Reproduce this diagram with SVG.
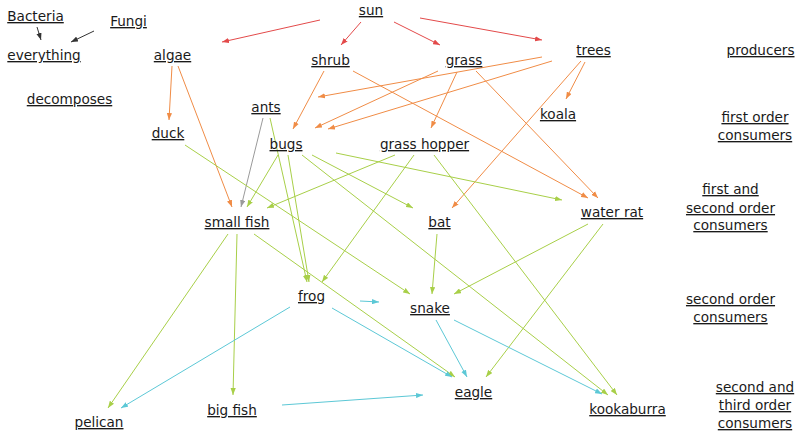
<svg xmlns="http://www.w3.org/2000/svg" width="800" height="439" viewBox="0 0 800 439">
<style>
text{font-family:"DejaVu Sans","Liberation Sans",sans-serif;font-size:13.6px;fill:#1a1a1a;text-anchor:middle;text-decoration:underline}
.c line{stroke-width:1;fill:none}
.k{stroke:#333}
.r{stroke:#e34a4a}
.o{stroke:#f08c46}
.g{stroke:#a8cf48}
.y{stroke:#9a9a9a}
.b{stroke:#5cc8d6}
.k{marker-end:url(#ak)}
.r{marker-end:url(#ar)}
.o{marker-end:url(#ao)}
.g{marker-end:url(#ag)}
.y{marker-end:url(#ay)}
.b{marker-end:url(#ab)}
</style>
<defs>
<marker id="ak" viewBox="0 0 8 6" refX="8" refY="3" markerWidth="7" markerHeight="5.5" orient="auto" markerUnits="userSpaceOnUse"><path d="M0,0L8,3L0,6z" fill="#333"/></marker>
<marker id="ar" viewBox="0 0 8 6" refX="8" refY="3" markerWidth="7" markerHeight="5.5" orient="auto" markerUnits="userSpaceOnUse"><path d="M0,0L8,3L0,6z" fill="#e34a4a"/></marker>
<marker id="ao" viewBox="0 0 8 6" refX="8" refY="3" markerWidth="7" markerHeight="5.5" orient="auto" markerUnits="userSpaceOnUse"><path d="M0,0L8,3L0,6z" fill="#f08c46"/></marker>
<marker id="ag" viewBox="0 0 8 6" refX="8" refY="3" markerWidth="7" markerHeight="5.5" orient="auto" markerUnits="userSpaceOnUse"><path d="M0,0L8,3L0,6z" fill="#a8cf48"/></marker>
<marker id="ay" viewBox="0 0 8 6" refX="8" refY="3" markerWidth="7" markerHeight="5.5" orient="auto" markerUnits="userSpaceOnUse"><path d="M0,0L8,3L0,6z" fill="#9a9a9a"/></marker>
<marker id="ab" viewBox="0 0 8 6" refX="8" refY="3" markerWidth="7" markerHeight="5.5" orient="auto" markerUnits="userSpaceOnUse"><path d="M0,0L8,3L0,6z" fill="#5cc8d6"/></marker>
</defs>
<rect width="800" height="439" fill="#ffffff"/>
<g id="connectors" class="c">
<line class="k" x1="37" y1="27" x2="41" y2="40"/>
<line class="k" x1="94" y1="31" x2="71" y2="42"/>
<line class="r" x1="320" y1="20" x2="222" y2="42"/>
<line class="r" x1="361" y1="22" x2="341" y2="45"/>
<line class="r" x1="394" y1="22" x2="440" y2="45"/>
<line class="r" x1="420" y1="18" x2="542" y2="40"/>
<line class="o" x1="172" y1="66" x2="169" y2="120"/>
<line class="o" x1="178" y1="66" x2="232" y2="207"/>
<line class="o" x1="324" y1="71" x2="293" y2="129"/>
<line class="o" x1="353" y1="71" x2="588" y2="198"/>
<line class="o" x1="476" y1="71" x2="598" y2="198"/>
<line class="o" x1="542" y1="57" x2="318" y2="97"/>
<line class="o" x1="552" y1="61" x2="328" y2="129"/>
<line class="o" x1="438" y1="71" x2="315" y2="128"/>
<line class="o" x1="457" y1="72" x2="431" y2="128"/>
<line class="o" x1="585" y1="62" x2="566" y2="99"/>
<line class="o" x1="581" y1="61" x2="452" y2="208"/>
<line class="y" x1="263" y1="118" x2="241" y2="207"/>
<line class="g" x1="278" y1="155" x2="247" y2="207"/>
<line class="g" x1="395" y1="155" x2="267" y2="208"/>
<line class="g" x1="270" y1="118" x2="307" y2="282"/>
<line class="g" x1="288" y1="155" x2="309" y2="282"/>
<line class="g" x1="185" y1="145" x2="410" y2="294"/>
<line class="g" x1="312" y1="155" x2="413" y2="208"/>
<line class="g" x1="302" y1="155" x2="608" y2="395"/>
<line class="g" x1="434" y1="155" x2="617" y2="395"/>
<line class="g" x1="336" y1="153" x2="562" y2="200"/>
<line class="g" x1="414" y1="155" x2="322" y2="282"/>
<line class="g" x1="603" y1="224" x2="486" y2="377"/>
<line class="g" x1="588" y1="224" x2="454" y2="294"/>
<line class="g" x1="437" y1="234" x2="432" y2="294"/>
<line class="g" x1="254" y1="234" x2="455" y2="377"/>
<line class="g" x1="228" y1="234" x2="108" y2="408"/>
<line class="g" x1="237" y1="234" x2="233" y2="395"/>
<line class="b" x1="454" y1="320" x2="602" y2="394"/>
<line class="b" x1="436" y1="320" x2="467" y2="377"/>
<line class="b" x1="332" y1="308" x2="452" y2="377"/>
<line class="b" x1="360" y1="301" x2="379" y2="302"/>
<line class="b" x1="290" y1="307" x2="121" y2="408"/>
<line class="b" x1="282" y1="405" x2="423" y2="395"/>
</g>
<g id="bacteria"><text x="35.5" y="21">Bacteria</text></g>
<g id="fungi"><text x="128.5" y="26">Fungi</text></g>
<g id="everything"><text x="44" y="60">everything</text></g>
<g id="decomposes"><text x="69.5" y="104">decomposes</text></g>
<g id="sun"><text x="371" y="15">sun</text></g>
<g id="algae"><text x="172.5" y="60">algae</text></g>
<g id="shrub"><text x="330.5" y="65">shrub</text></g>
<g id="grass"><text x="464" y="65">grass</text></g>
<g id="trees"><text x="593.5" y="55">trees</text></g>
<g id="ants"><text x="266" y="112">ants</text></g>
<g id="koala"><text x="558" y="119">koala</text></g>
<g id="duck"><text x="168" y="138">duck</text></g>
<g id="bugs"><text x="286" y="149">bugs</text></g>
<g id="grasshopper"><text x="424.5" y="149">grass hopper</text></g>
<g id="smallfish"><text x="237" y="227">small fish</text></g>
<g id="bat"><text x="439.5" y="227">bat</text></g>
<g id="waterrat"><text x="612" y="217">water rat</text></g>
<g id="frog"><text x="311.5" y="301">frog</text></g>
<g id="snake"><text x="430" y="313">snake</text></g>
<g id="eagle"><text x="473.5" y="397">eagle</text></g>
<g id="bigfish"><text x="232" y="415">big fish</text></g>
<g id="pelican"><text x="99" y="427">pelican</text></g>
<g id="kookaburra"><text x="627.5" y="414">kookaburra</text></g>
<g id="level-producers"><text x="760.5" y="55">producers</text></g>
<g id="level-first"><text x="755" y="122">first order</text><text x="755" y="140">consumers</text></g>
<g id="level-firstsecond"><text x="730.5" y="194">first and</text><text x="730.5" y="213">second order</text><text x="730.5" y="230">consumers</text></g>
<g id="level-second"><text x="730.5" y="304">second order</text><text x="730.5" y="322">consumers</text></g>
<g id="level-secondthird"><text x="755" y="392">second and</text><text x="755" y="410">third order</text><text x="755" y="428">consumers</text></g>
</svg>
